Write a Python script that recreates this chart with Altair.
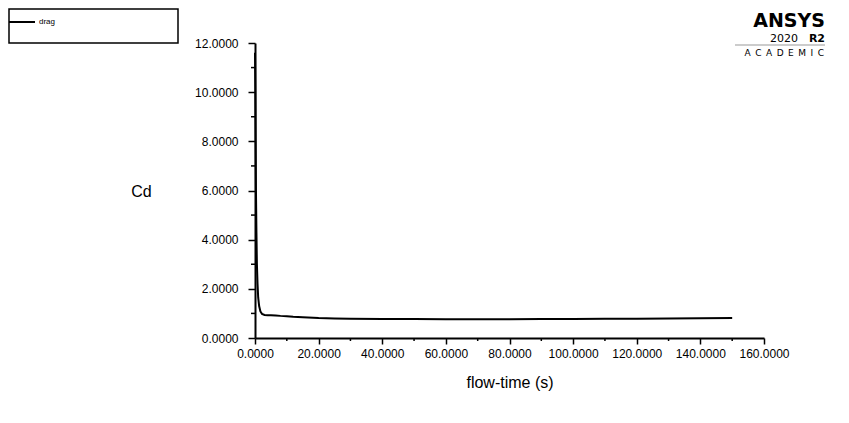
import altair as alt
import pandas as pd

# data
flow_time = [0.0, 0.1, 0.2, 0.3, 0.45, 0.6, 0.8, 1.0, 1.3, 1.7, 2.2, 3.0, 4.0, 5.0, 6.5, 8.0, 10.0, 12.0, 15.0, 20.0, 25.0, 30.0, 40.0, 50.0, 60.0, 70.0, 80.0, 90.0, 100.0, 110.0, 120.0, 130.0, 140.0, 150.0]
cd = [11.6, 10.2, 8.0, 6.0, 4.3, 3.0, 2.2, 1.65, 1.3, 1.08, 0.98, 0.94, 0.93, 0.93, 0.92, 0.9, 0.88, 0.86, 0.84, 0.81, 0.795, 0.785, 0.775, 0.77, 0.765, 0.765, 0.765, 0.768, 0.772, 0.778, 0.785, 0.795, 0.805, 0.81]
x_major = [0, 20, 40, 60, 80, 100, 120, 140, 160]
x_minor = [10, 30, 50, 70, 90, 110, 130, 150]
y_major = [0, 2, 4, 6, 8, 10, 12]
y_minor = [1, 3, 5, 7, 9, 11]
series_name = "drag"
x_title = "flow-time (s)"
y_title = "Cd"

df = pd.DataFrame({"t": flow_time, "cd": cd})
FONT = "Liberation Sans"

xs = alt.Scale(domain=[0, 160], nice=False, zero=False)
ys = alt.Scale(domain=[0, 12], nice=False, zero=False)

line = alt.Chart(df).mark_line(color="black", strokeWidth=2).encode(
    x=alt.X("t:Q", scale=xs, title=x_title,
            axis=alt.Axis(values=x_major, format=".4f", grid=False, labelOverlap=False,
                          labelFlush=False,
                          domainColor="black", domainWidth=2, tickColor="black",
                          tickWidth=1.5, tickSize=6, labelFont=FONT, labelFontSize=12,
                          labelColor="black", labelPadding=4, titleFont=FONT,
                          titleFontSize=16, titleFontWeight="normal", titleColor="black",
                          titleY=44, titleBaseline="middle")),
    y=alt.Y("cd:Q", scale=ys, title=y_title,
            axis=alt.Axis(values=y_major, format=".4f", grid=False, labelOverlap=False,
                          labelFlush=False,
                          domainColor="black", domainWidth=2, tickColor="black",
                          tickWidth=1.5, tickSize=7, labelFont=FONT, labelFontSize=12,
                          labelColor="black", labelPadding=10, titleFont=FONT,
                          titleFontSize=16, titleFontWeight="normal", titleColor="black",
                          titleAngle=0, titleX=-114, titleY=148, titleAlign="center",
                          titleBaseline="middle")),
)

xminor = alt.Chart(pd.DataFrame({"v": x_minor})).mark_rule(color="black", strokeWidth=1.5).encode(
    x=alt.X("v:Q", scale=xs), y=alt.value(295), y2=alt.value(298))
yminor = alt.Chart(pd.DataFrame({"v": y_minor})).mark_rule(color="black", strokeWidth=1.5).encode(
    y=alt.Y("v:Q", scale=ys), x=alt.value(-4), x2=alt.value(0))

one = pd.DataFrame({"a": [0]})
legend_box = alt.Chart(one).mark_rect(fill="white", stroke="black", strokeWidth=1.5).encode(
    x=alt.value(-246), x2=alt.value(-77), y=alt.value(-34), y2=alt.value(0))
legend_line = alt.Chart(one).mark_rule(color="black", strokeWidth=2).encode(
    x=alt.value(-246), x2=alt.value(-220), y=alt.value(-21))
legend_text = alt.Chart(one).mark_text(
    text=series_name, font=FONT, fontSize=8, align="left", baseline="middle", color="black").encode(
    x=alt.value(-216), y=alt.value(-21))

logo1 = alt.Chart(one).mark_text(
    text="ANSYS", font="DejaVu Sans", fontSize=19, fontWeight="bold", align="right",
    baseline="alphabetic", color="black").encode(x=alt.value(570), y=alt.value(-16))
logo2 = alt.Chart(one).mark_text(
    text="2020", font="DejaVu Sans", fontSize=11, align="right",
    baseline="alphabetic", color="black").encode(x=alt.value(543), y=alt.value(-1))
logo2b = alt.Chart(one).mark_text(
    text="R2", font="DejaVu Sans", fontSize=11, fontWeight="bold", align="right",
    baseline="alphabetic", color="black").encode(x=alt.value(570), y=alt.value(-1))
logo_rule = alt.Chart(one).mark_rule(color="#999999", strokeWidth=1).encode(
    x=alt.value(480), x2=alt.value(570), y=alt.value(2))
logo3 = alt.Chart(one).mark_text(
    text="A\u2002C\u2002A\u2002D\u2002E\u2002M\u2002I\u2002C", font="DejaVu Sans", fontSize=9,
    align="right", baseline="alphabetic", color="black").encode(x=alt.value(569), y=alt.value(13))

chart = alt.layer(
    legend_box, legend_line, legend_text, logo1, logo2, logo2b, logo_rule, logo3,
    xminor, yminor, line
).properties(
    width=509, height=295,
    autosize=alt.AutoSizeParams(type="none"),
    padding={"left": 247, "top": 35, "right": 77, "bottom": 77},
    background="white",
).configure_view(stroke=None)

chart.save("out.html", embed_options={"renderer": "svg", "actions": False})
